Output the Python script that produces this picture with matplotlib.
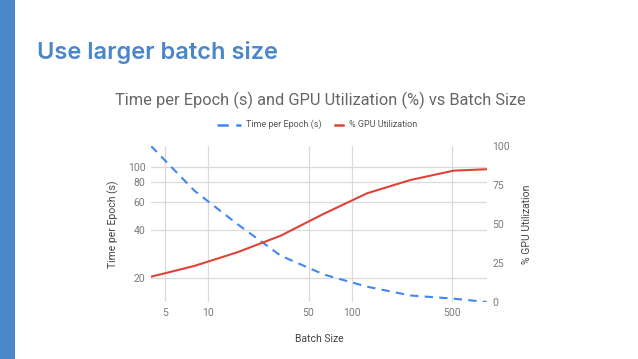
import matplotlib
matplotlib.use('Agg')
import matplotlib.pyplot as plt
from matplotlib.ticker import FixedLocator, NullLocator, FixedFormatter
from matplotlib.patches import Rectangle
from matplotlib.lines import Line2D

# batch size vs time per epoch (s) and GPU utilization (%)
batch = [4, 8, 16, 32, 64, 128, 256, 512, 870]
epoch_time = [135.5, 71.0, 43.6, 27.6, 21.0, 17.6, 15.5, 14.8, 14.1]
gpu_util = [16.2, 23.1, 31.9, 42.5, 56.6, 69.7, 78.2, 84.2, 85.1]

x_ticks = [5, 10, 50, 100, 500]
left_ticks = [20, 40, 60, 80, 100]
right_ticks = [0, 25, 50, 75, 100]

BLUE = '#4285F4'
RED = '#DB4437'
GRID = '#DADADA'
TICK = '#7A7A7A'
LABEL = '#444444'
W, H = 638, 359

plt.rcParams['font.family'] = ['Roboto', 'DejaVu Sans']

fig = plt.figure(figsize=(W / 100, H / 100), dpi=100)
fig.patch.set_facecolor('white')

# slide decoration
fig.add_artist(Rectangle((0, 0), 15 / W, 1, transform=fig.transFigure,
                         color='#4A86C8', lw=0))
fig.text(37 / W, 1 - 52 / H, 'Use larger batch size', fontsize=17,
         fontweight='semibold', color='#4A86C8', va='center', ha='left',
         family=['Inter', 'DejaVu Sans'])

ax = fig.add_axes([151 / W, 1 - 302 / H, (486.7 - 151) / W, 156 / H])
ax2 = ax.twinx()

ax.plot(batch, epoch_time, color=BLUE, lw=1.5, dashes=(4, 3))
ax2.plot(batch, gpu_util, color=RED, lw=1.5)

ax.set_xscale('log')
ax.set_yscale('log')
ax.set_xlim(min(batch), max(batch))
ax.set_ylim(min(epoch_time), max(epoch_time))
ax2.set_ylim(0, 100)

ax.xaxis.set_major_locator(FixedLocator(x_ticks))
ax.xaxis.set_major_formatter(FixedFormatter([str(t) for t in x_ticks]))
ax.xaxis.set_minor_locator(NullLocator())
ax.yaxis.set_major_locator(FixedLocator(left_ticks))
ax.yaxis.set_major_formatter(FixedFormatter([str(t) for t in left_ticks]))
ax.yaxis.set_minor_locator(NullLocator())
ax2.yaxis.set_major_locator(FixedLocator(right_ticks))

ax.grid(True, color=GRID, lw=0.9)
ax.set_axisbelow(True)
for a in (ax, ax2):
    for s in a.spines.values():
        s.set_visible(False)
    a.tick_params(length=0, labelsize=7.5, colors=TICK, pad=4)

ax.set_xlabel('Batch Size', fontsize=7.5, color=LABEL, labelpad=12)
ax.set_ylabel('Time per Epoch (s)', fontsize=7.5, color=LABEL, labelpad=6)
ax2.set_ylabel('% GPU Utilization', fontsize=7.5, color=LABEL, labelpad=9,
               rotation=90)

fig.text(320 / W, 1 - 100 / H,
         'Time per Epoch (s) and GPU Utilization (%) vs Batch Size',
         fontsize=11.8, color='#666666', ha='center', va='center')

# legend drawn by hand: Sheets uses a long dashed key and a short solid one
ly = 1 - 124.5 / H
fig.add_artist(Line2D([216.7 / W, 241 / W], [ly, ly], color=BLUE, lw=1.8,
                      dashes=(4.5, 3), transform=fig.transFigure))
fig.text(246.5 / W, ly, 'Time per Epoch (s)', fontsize=6.5, color='#555555',
         va='center', ha='left')
fig.add_artist(Line2D([335 / W, 343.3 / W], [ly, ly], color=RED, lw=1.8,
                      transform=fig.transFigure))
fig.text(349 / W, ly, '% GPU Utilization', fontsize=6.5, color='#555555',
         va='center', ha='left')

fig.savefig('out.png', dpi=100)
